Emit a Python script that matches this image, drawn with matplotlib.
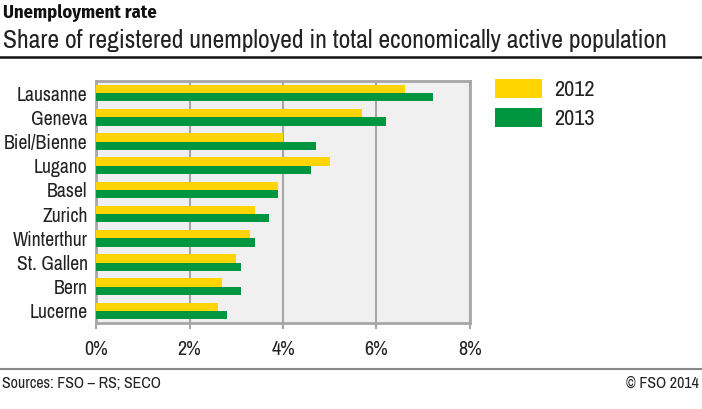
import matplotlib.pyplot as plt
import numpy as np

# data
cities = ["Lausanne", "Geneva", "Biel/Bienne", "Lugano", "Basel",
          "Zurich", "Winterthur", "St. Gallen", "Bern", "Lucerne"]
rate_2012 = [6.6, 5.7, 4.0, 5.0, 3.9, 3.4, 3.3, 3.0, 2.7, 2.6]
rate_2013 = [7.2, 6.2, 4.7, 4.6, 3.9, 3.7, 3.4, 3.1, 3.1, 2.8]
years = ["2012", "2013"]
xticks = [0, 2, 4, 6, 8]

plt.rcParams['font.family'] = ['Archivo Narrow', 'DejaVu Sans']
yellow = "#FFD400"
green = "#00963F"
gridc = "#A6A6A6"
txt = "#222222"

fig = plt.figure(figsize=(7.02, 4.09), dpi=100)
ax = fig.add_axes([96/702, 1 - 323/409, 374/702, 242/409])
ax.set_facecolor("#F0F0F0")

y = np.arange(len(cities))
h = 0.345
ax.barh(y - h/2, rate_2012, height=h, color=yellow, label=years[0], zorder=3)
ax.barh(y + h/2, rate_2013, height=h, color=green, label=years[1], zorder=3)

ax.set_xlim(0, 8)
ax.set_ylim(len(cities) - 0.5, -0.5)
ax.set_xticks(xticks)
ax.set_xticklabels([f"{t}%" for t in xticks], fontsize=14.5, color=txt)
ax.set_yticks(y)
ax.set_yticklabels(cities, fontsize=14.2, color=txt)
ax.tick_params(axis='y', length=0, pad=6)
ax.tick_params(axis='x', length=4, width=1.5, color=gridc, pad=8)
ax.grid(axis='x', color=gridc, linewidth=1.5, zorder=1)
for s in ax.spines.values():
    s.set_color(gridc)
    s.set_linewidth(2)

leg = ax.legend(loc='upper left', bbox_to_anchor=(1.067, 1.01), frameon=False,
                fontsize=16, handlelength=2.1, handleheight=0.95,
                labelspacing=0.35, handletextpad=0.55,
                borderpad=0, borderaxespad=0)
for t in leg.get_texts():
    t.set_color(txt)

fig.text(3/702, 1 - 13/409, "Unemployment rate", fontsize=13.3, fontweight='bold',
         family=['Fira Sans Condensed', 'DejaVu Sans'],
         va='center', ha='left', color="#111111")
fig.text(3/702, 1 - 41/409,
         "Share of registered unemployed in total economically active population",
         fontsize=18.5, va='center', ha='left', color=txt)
fig.add_artist(plt.Line2D([0, 1], [1 - 57/409, 1 - 57/409], color="#111111",
                          linewidth=1.8, transform=fig.transFigure))
fig.add_artist(plt.Line2D([0, 1], [1 - 369/409, 1 - 369/409], color="#888888",
                          linewidth=1.5, transform=fig.transFigure))
fig.text(2/702, 1 - 383/409, "Sources: FSO – RS; SECO", fontsize=11.5,
         va='center', ha='left', color=txt)
fig.text(699/702, 1 - 383/409, "© FSO 2014", fontsize=11.5,
         va='center', ha='right', color=txt)

fig.savefig("out.png", dpi=100)
